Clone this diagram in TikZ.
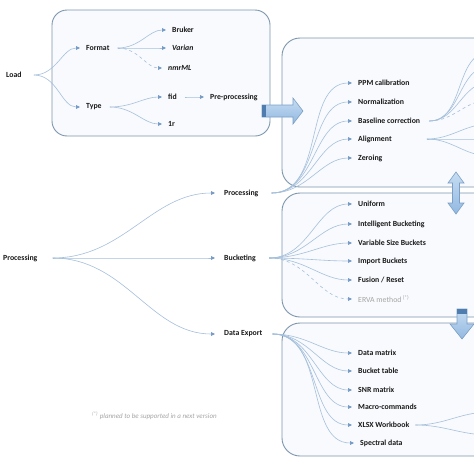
\documentclass[tikz,border=0pt]{standalone}
\usepackage{fontspec}
\setmainfont{Carlito}
\usetikzlibrary{arrows.meta}
\definecolor{boxline}{HTML}{7E96AE}
\definecolor{boxfill}{HTML}{F8FAFD}
\definecolor{connc}{HTML}{A6C0DC}
\definecolor{tipc}{HTML}{6F97C4}
\definecolor{bigtop}{HTML}{C6DDF3}
\definecolor{bigbot}{HTML}{92B8E0}
\definecolor{bigline}{HTML}{7B9FC6}
\definecolor{bigdark}{HTML}{4F7DAF}
\definecolor{greyt}{HTML}{A5A5A5}
\definecolor{txt}{HTML}{1A1A1A}
\tikzset{
  lbl/.style={font=\fontsize{7.8}{9}\selectfont\bfseries, text=txt, inner sep=1pt, anchor=west},
  foot/.style={font=\fontsize{7}{8}\selectfont\itshape, text=greyt, inner sep=1pt, anchor=west},
  conn/.style={draw=connc, line width=0.6pt, -{Triangle[width=3.6pt,length=4pt,color=tipc]}, shorten >=5pt, out=0, in=180},
  fanout/.style={draw=connc, line width=0.6pt, out=0, in=180},
  panel/.style={draw=boxline, fill=boxfill, line width=0.9pt, rounded corners=18pt},
  bigarrow/.style={draw=bigline, line width=0.6pt, top color=bigtop, bottom color=bigbot},
}
\begin{document}
\begin{tikzpicture}[x=1pt,y=-1pt]
\useasboundingbox (0,0) rectangle (474,474);
\clip (0,0) rectangle (474,474);
\fill[white] (0,0) rectangle (474,474);

% panels
\draw[panel, rounded corners=15pt] (52,10) rectangle (270,136);
\draw[panel] (282,38) rectangle (530,187);
\draw[panel] (282,193) rectangle (530,317);
\draw[panel] (282,323) rectangle (530,456);

% Load tree
\node[lbl] (load) at (5,75) {Load};
\node[lbl] (format) at (85,48) {Format};
\node[lbl] (bruker) at (171,30) {Bruker};
\node[lbl] (varian) at (171,48) {\itshape Varian};
\node[lbl] (nmrml) at (167,68) {\itshape nmrML};
\node[lbl] (type) at (85,107) {Type};
\node[lbl] (fid) at (167,97) {fid};
\node[lbl] (prep) at (209,97) {Pre-processing};
\node[lbl] (onear) at (167,124) {1r};

\coordinate (loadO) at ([xshift=11pt]load.east);
\coordinate (formatO) at ([xshift=7pt]format.east);
\coordinate (typeO) at ([xshift=7pt]type.east);
\coordinate (fidO) at ([xshift=7pt]fid.east);

\draw[conn] (loadO) to (format.west);
\draw[conn] (loadO) to (type.west);
\draw[conn] (formatO) to (bruker.west);
\draw[conn] (formatO) to (varian.west);
\draw[conn, dashed] (formatO) to (nmrml.west);
\draw[conn] (typeO) to (fid.west);
\draw[conn] (typeO) to (onear.west);
\draw[conn] (fidO) to (prep.west);

% main tree
\node[lbl] (proc) at (2,258) {Processing};
\node[lbl] (pproc) at (223,193) {Processing};
\node[lbl] (buck) at (223,258) {Bucketing};
\node[lbl] (dexp) at (223,334) {Data Export};
\coordinate (procO) at ([xshift=14pt]proc.east);
\draw[conn, shorten >=8pt] (procO) to (pproc.west);
\draw[conn, shorten >=8pt] (procO) to (buck.west);
\draw[conn, shorten >=8pt] (procO) to (dexp.west);

% Processing panel
\node[lbl] (ppm) at (357,83) {PPM calibration};
\node[lbl] (norm) at (357,102) {Normalization};
\node[lbl] (base) at (357,121) {Baseline correction};
\node[lbl] (align) at (357,139) {Alignment};
\node[lbl] (zero) at (357,158) {Zeroing};
\coordinate (pprocO) at ([xshift=12pt]pproc.east);
\foreach \t in {ppm,norm,base,align,zero}
  \draw[conn] (pprocO) to (\t.west);
\coordinate (baseO) at ([xshift=8pt]base.east);
\coordinate (alignO) at ([xshift=34pt]align.east);
\coordinate (r1) at (490,52);
\coordinate (r2) at (490,66);
\coordinate (r3) at (490,82);
\coordinate (r4) at (490,100);
\coordinate (r5) at (490,124);
\coordinate (r6) at (490,139);
\coordinate (r7) at (490,156);
\draw[fanout] (baseO) to (r1);
\draw[fanout] (baseO) to (r2);
\draw[fanout] (baseO) to (r3);
\draw[fanout, dashed] (baseO) to (r4);
\draw[fanout] (alignO) to (r5);
\draw[fanout] (alignO) to (r6);
\draw[fanout] (alignO) to (r7);

% Bucketing panel
\node[lbl] (unif) at (357,204) {Uniform};
\node[lbl] (intel) at (357,224) {Intelligent Bucketing};
\node[lbl] (varb) at (357,243) {Variable Size Buckets};
\node[lbl] (imp) at (357,261) {Import Buckets};
\node[lbl] (fus) at (357,280) {Fusion / Reset};
\node[lbl, text=greyt, font=\fontsize{7.8}{9}\selectfont] (erva) at (357,299) {ERVA method\,\textsuperscript{(*)}};
\coordinate (buckO) at ([xshift=12pt]buck.east);
\foreach \t in {unif,intel,varb,imp,fus}
  \draw[conn] (buckO) to (\t.west);
\draw[conn, dashed] (buckO) to (erva.west);

% Export panel
\node[lbl] (dm) at (357,353) {Data matrix};
\node[lbl] (bt) at (357,371) {Bucket table};
\node[lbl] (snr) at (357,390) {SNR matrix};
\node[lbl] (macro) at (357,407) {Macro-commands};
\node[lbl] (xlsx) at (357,425) {XLSX Workbook};
\node[lbl] (spec) at (359,443) {Spectral data};
\coordinate (dexpO) at ([xshift=9pt]dexp.east);
\foreach \t in {dm,bt,snr,macro,xlsx,spec}
  \draw[conn] (dexpO) to (\t.west);
\coordinate (xlsxO) at ([xshift=5pt]xlsx.east);
\coordinate (r8) at (490,412);
\coordinate (r9) at (490,435);
\draw[fanout] (xlsxO) to (r8);
\draw[fanout] (xlsxO) to (r9);

% footnote
\node[foot] (note) at (91,416) {\textsuperscript{(*)} planned to be supported in a next version};

% big arrows
\draw[bigarrow] (262,105) -- (293,105) -- (293,98) -- (303,111) -- (293,124) -- (293,117) -- (262,117) -- cycle;
\fill[bigdark] (262.3,105.3) rectangle (266,116.7);
\draw[bigarrow] (456,172) -- (464,183) -- (459.5,183) -- (459.5,203) -- (464,203) -- (456,214) -- (448,203) -- (452.5,203) -- (452.5,183) -- (448,183) -- cycle;
\draw[bigarrow] (457,309) -- (467,309) -- (467,324) -- (474,324) -- (462,339) -- (450,324) -- (457,324) -- cycle;
\fill[bigdark] (457.3,309.3) rectangle (466.7,314);
\end{tikzpicture}
\end{document}
